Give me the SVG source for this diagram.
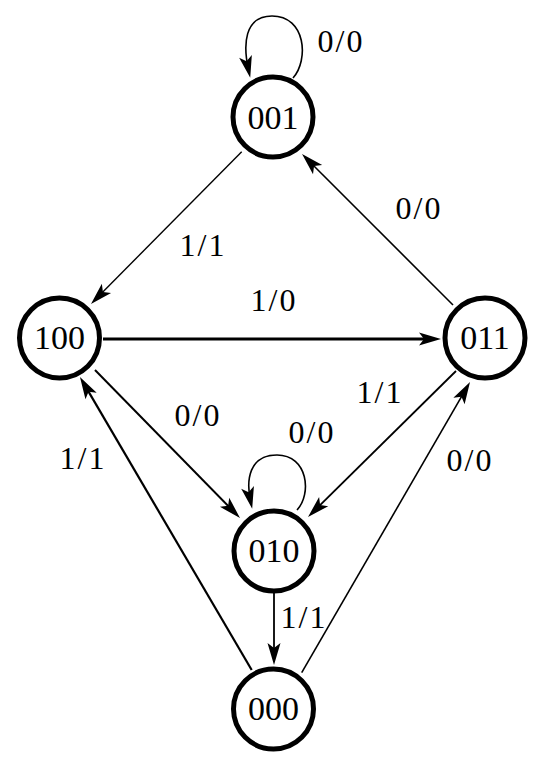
<svg xmlns="http://www.w3.org/2000/svg" width="553" height="783" viewBox="0 0 553 783">
<style>
.node circle{fill:#fff;stroke:#000;stroke-width:5}
.node text{font-family:"Liberation Serif","Times New Roman",serif;font-size:34px;text-anchor:middle;fill:#000}
.lbl{font-family:"Liberation Serif","Times New Roman",serif;font-size:32px;text-anchor:middle;fill:#000;letter-spacing:2px}
.edge{fill:none;stroke:#000;stroke-width:1.6;marker-end:url(#arr)}
</style>
<defs>
<marker id="arr" viewBox="-15 -8 24 16" markerWidth="24" markerHeight="16" refX="0" refY="0" orient="auto" markerUnits="userSpaceOnUse">
<path d="M8,0 L-14,-6.5 L-9,0 L-14,6.5 Z" fill="#000"/>
</marker>
</defs>
<rect width="553" height="783" fill="#fff"/>
<g id="connectors">
<path class="edge" d="M293,78 C309,60 306,16 272,16 C244,16 243,45 248.5,70"/>
<path class="edge" d="M297,510 C312,494 308,455 277,455 C249,455 246,480 250.5,501"/>
<path class="edge" style="stroke-width:1.4" d="M241.7,151.7 L96.6,298.3"/>
<path class="edge" d="M453,305 L307.7,159.7"/>
<path class="edge" style="stroke-width:3" d="M103,339 L433,339"/>
<path class="edge" style="stroke-width:2" d="M95,370 L234.4,512.3"/>
<path class="edge" style="stroke-width:1.8" d="M456,371 L313.7,511.4"/>
<path class="edge" style="stroke-width:2.2" d="M251.7,670 L84,383.9"/>
<path class="edge" d="M301.7,672.7 L466,388.9"/>
<path class="edge" style="stroke-width:1.8" d="M274,593 L274,657"/>
</g>
<g id="labels">
<text class="lbl" x="341" y="52">0/0</text>
<text class="lbl" x="203" y="256">1/1</text>
<text class="lbl" x="419" y="219">0/0</text>
<text class="lbl" x="274" y="311">1/0</text>
<text class="lbl" x="380" y="403">1/1</text>
<text class="lbl" x="198" y="426">0/0</text>
<text class="lbl" x="312" y="443">0/0</text>
<text class="lbl" x="83" y="469">1/1</text>
<text class="lbl" x="470" y="471">0/0</text>
<text class="lbl" x="304" y="628">1/1</text>
</g>
<g id="n001" class="node"><circle cx="273" cy="117" r="40"/><text x="273" y="129">001</text></g>
<g id="n100" class="node"><circle cx="59.5" cy="338" r="40"/><text x="59.5" y="349">100</text></g>
<g id="n011" class="node"><circle cx="485" cy="338" r="40"/><text x="485" y="349">011</text></g>
<g id="n010" class="node"><circle cx="274" cy="551" r="40"/><text x="274" y="562">010</text></g>
<g id="n000" class="node"><circle cx="273.5" cy="709" r="40"/><text x="273.5" y="720">000</text></g>
</svg>
